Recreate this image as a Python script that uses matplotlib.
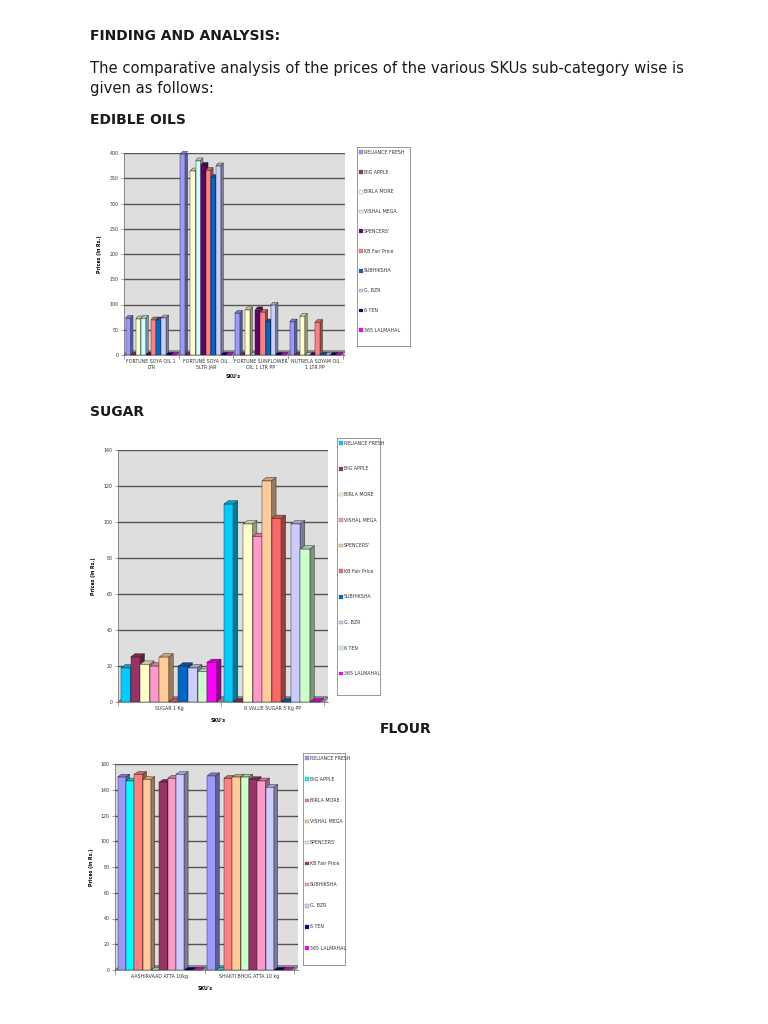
import matplotlib as mpl
mpl.use('Agg')
import matplotlib.pyplot as plt
from matplotlib.patches import Patch, Polygon
from matplotlib.colors import to_rgb

import numpy as np

#------------------------------------------------------------------------------
# Data
#------------------------------------------------------------------------------
stores = ['RELIANCE FRESH', 'BIG APPLE', 'BIRLA MORE', 'VISHAL MEGA', "SPENCERS'",
          'KB Fair Price', 'SUBHIKSHA', 'G. BZR', '6 TEN', '365 LALMAHAL']

oil_skus = ['FORTUNE SOYA OIL 1\nLTR', 'FORTUNE SOYA OIL\n5LTR JAR',
            'FORTUNE SUNFLOWER\nOIL 1 LTR PP', 'NUTRELA SOYAM OIL\n1 LTR PP']
# one list per store, one value per SKU
oil_prices = [
    [73, 398, 83, 66],     # RELIANCE FRESH
    [0, 0, 0, 0],          # BIG APPLE
    [72, 365, 90, 77],     # BIRLA MORE
    [73, 385, 0, 0],       # VISHAL MEGA
    [0, 376, 90, 0],       # SPENCERS'
    [70, 366, 85, 65],     # KB Fair Price
    [70, 352, 66, 0],      # SUBHIKSHA
    [74, 375, 99, 0],      # G. BZR
    [0, 0, 0, 0],          # 6 TEN
    [0, 0, 0, 0],          # 365 LALMAHAL
]
oil_colours = ['#9999FF', '#993366', '#FFFFCC', '#CCFFFF', '#660066',
               '#FF8080', '#0066CC', '#CCCCFF', '#000080', '#FF00FF']

sugar_skus = ['SUGAR 1 Kg', 'R VALUE SUGAR 5 Kg PP']
sugar_prices = [
    [19, 110],
    [25, 0],
    [21, 99],
    [20, 92],
    [25, 123],
    [0, 102],
    [20, 0],
    [19, 99],
    [17, 85],
    [22, 0],
]
sugar_colours = ['#00CCFF', '#993366', '#FFFFCC', '#FF99CC', '#FFCC99',
                 '#FF6666', '#0066CC', '#CCCCFF', '#CCFFCC', '#FF00FF']

flour_skus = ['AASHIRVAAD ATTA 10kg', 'SHAKTI BHOG ATTA 10 kg']
flour_prices = [
    [150, 151],
    [147, 0],
    [152, 149],
    [148, 150],
    [0, 150],
    [146, 148],
    [149, 147],
    [152, 142],
    [0, 0],
    [0, 0],
]
flour_colours = ['#9999FF', '#00FFFF', '#FF8080', '#FFCC99', '#CCFFCC',
                 '#993366', '#FF99CC', '#CCCCFF', '#000080', '#FF00FF']

W, H = 768, 1024
fig = plt.figure(figsize=(W / 100, H / 100), dpi=100)
fig.patch.set_facecolor('white')


def px_rect(x0, y0, x1, y1):
    return [x0 / W, 1 - y1 / H, (x1 - x0) / W, (y1 - y0) / H]


def shade(colour, f):
    r, g, b = to_rgb(colour)
    return (r * f, g * f, b * f)


#------------------------------------------------------------------------------
def draw_3d_chart(ax_px, legend_px, skus, prices, colours, ymax, ystep, label_px):
    ax = fig.add_axes(px_rect(*ax_px))
    n_groups = len(skus)
    n_series = len(prices)
    w = 0.93 / n_series
    dx = w * 0.45
    dy = ymax * 0.013

    ax.set_facecolor('#dedede')
    ax.set_xlim(0, n_groups + dx)
    ax.set_ylim(0, ymax)
    ax.set_yticks(np.arange(0, ymax + 1, ystep))
    ax.yaxis.grid(True, color='#555555', linewidth=1.0)
    ax.set_axisbelow(True)

    # floor of the 3D box
    floor = Polygon([(0, 0), (n_groups, 0), (n_groups + dx * 1.4, dy * 1.6),
                     (dx * 1.4, dy * 1.6)], closed=True,
                    facecolor='#8a8a8a', edgecolor='#555555', lw=0.4, zorder=2)
    ax.add_patch(floor)

    z = 3
    for j in range(n_groups):
        for i in range(n_series):
            h = prices[i][j]
            x = j + 0.03 + i * w
            c = colours[i]
            if h > 0:
                ax.bar(x, h, width=w, align='edge', color=c,
                       edgecolor='#222222', linewidth=0.3, zorder=z)
            side = Polygon([(x + w, 0), (x + w + dx, dy), (x + w + dx, h + dy), (x + w, h)],
                           closed=True, facecolor=shade(c, 0.6),
                           edgecolor='#222222', lw=0.3, zorder=z + 0.1)
            top = Polygon([(x, h), (x + w, h), (x + w + dx, h + dy), (x + dx, h + dy)],
                          closed=True, facecolor=shade(c, 0.8),
                          edgecolor='#222222', lw=0.3, zorder=z + 0.2, clip_on=False)
            if h > 0:
                ax.add_patch(side)
            ax.add_patch(top)
            z += 1

    ax.set_xticks(np.arange(n_groups) + 0.5)
    ax.set_xticklabels(skus, fontsize=3.4, linespacing=1.2, color='#333333')
    ax.set_xticks(np.arange(n_groups + 1), minor=True)
    ax.tick_params(axis='x', which='major', length=0, pad=3)
    ax.tick_params(axis='x', which='minor', length=3, width=0.4, color='#555555')
    ax.tick_params(axis='y', labelsize=3.4, labelcolor='#333333', length=2, width=0.4,
                   color='#555555', pad=2)
    for s in ['top', 'right']:
        ax.spines[s].set_visible(False)
    for s in ['left', 'bottom']:
        ax.spines[s].set_color('#666666')
        ax.spines[s].set_linewidth(0.5)

    ax.set_ylabel('Prices (In Rs.)', fontsize=3.4, fontweight='bold', labelpad=5)
    fig.text(label_px[0] / W, 1 - label_px[1] / H, "SKU's", fontsize=3.4,
             fontweight='bold', ha='center', va='center')

    # legend box
    lax = fig.add_axes(px_rect(*legend_px))
    lax.set_xticks([])
    lax.set_yticks([])
    for s in lax.spines.values():
        s.set_color('#888888')
        s.set_linewidth(0.6)
    handles = [Patch(facecolor=c, edgecolor='#555555', linewidth=0.2) for c in colours]
    row_px = (legend_px[3] - legend_px[1]) / n_series
    spacing = (row_px - 5.2) / 4.7
    leg = lax.legend(handles, stores, loc='upper left', bbox_to_anchor=(-0.02, 1.0),
                     frameon=False, fontsize=3.4, labelspacing=spacing,
                     handlelength=0.8, handleheight=0.8, handletextpad=0.3,
                     borderaxespad=0.0, borderpad=0.6)
    for t in leg.get_texts():
        t.set_color('#333333')
    return ax


#------------------------------------------------------------------------------
# Page text
#------------------------------------------------------------------------------
def page_text(x, y, s, bold=False):
    fig.text(x / W, 1 - y / H, s, fontsize=10 if bold else 10.6, ha='left', va='center',
             fontweight='bold' if bold else 'normal', color='#1a1a1a')


page_text(90, 36, 'FINDING AND ANALYSIS:', bold=True)
page_text(90, 69, 'The comparative analysis of the prices of the various SKUs sub-category wise is')
page_text(90, 89, 'given as follows:')
page_text(90, 120, 'EDIBLE OILS', bold=True)
page_text(90, 412, 'SUGAR', bold=True)
page_text(380, 729, 'FLOUR', bold=True)

draw_3d_chart((124, 153, 345, 355), (357, 147, 410, 346),
              oil_skus, oil_prices, oil_colours, 400, 50, (233, 377))
draw_3d_chart((118, 450, 328, 702), (337, 438, 380, 695),
              sugar_skus, sugar_prices, sugar_colours, 140, 20, (218, 720))
draw_3d_chart((115, 764, 298, 970), (303, 753, 345, 965),
              flour_skus, flour_prices, flour_colours, 160, 20, (205, 988))

fig.savefig('out.png', dpi=100, facecolor='white')
